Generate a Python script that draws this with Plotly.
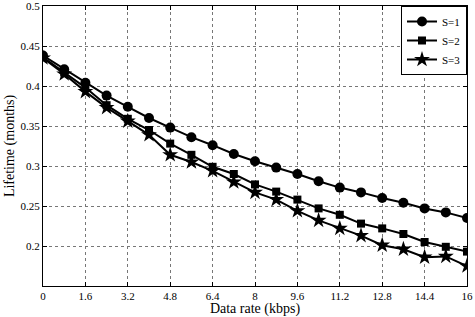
import plotly.graph_objects as go

data_rate = [0, 0.8, 1.6, 2.4, 3.2, 4.0, 4.8, 5.6, 6.4, 7.2, 8.0, 8.8, 9.6, 10.4, 11.2, 12.0, 12.8, 13.6, 14.4, 15.2, 16.0]
s1 = [0.438, 0.421, 0.404, 0.388, 0.374, 0.360, 0.348, 0.336, 0.326, 0.315, 0.306, 0.298, 0.290, 0.281, 0.273, 0.267, 0.260, 0.254, 0.247, 0.242, 0.235]
s2 = [0.436, 0.417, 0.398, 0.376, 0.359, 0.345, 0.328, 0.314, 0.299, 0.290, 0.277, 0.268, 0.258, 0.247, 0.239, 0.228, 0.222, 0.215, 0.205, 0.199, 0.193]
s3 = [0.435, 0.415, 0.393, 0.373, 0.356, 0.339, 0.314, 0.305, 0.294, 0.280, 0.267, 0.258, 0.244, 0.232, 0.222, 0.213, 0.201, 0.196, 0.186, 0.187, 0.175]
x_ticks = [0, 1.6, 3.2, 4.8, 6.4, 8, 9.6, 11.2, 12.8, 14.4, 16]
x_tick_labels = ["0", "1.6", "3.2", "4.8", "6.4", "8", "9.6", "11.2", "12.8", "14.4", "16"]
y_ticks = [0.2, 0.25, 0.3, 0.35, 0.4, 0.45, 0.5]
y_tick_labels = ["0.2", "0.25", "0.3", "0.35", "0.4", "0.45", "0.5"]

font = "Liberation Serif, Times New Roman, serif"

fig = go.Figure()
for name, ys, sym, size in [("S=1", s1, "circle", 10), ("S=2", s2, "square", 8), ("S=3", s3, "star", 12)]:
    fig.add_trace(go.Scatter(
        x=data_rate, y=ys, name=name, mode="lines+markers",
        line=dict(color="black", width=2),
        marker=dict(symbol=sym, size=size, color="black", line=dict(width=0)),
    ))

axis_common = dict(
    showline=True, linecolor="black", linewidth=1, mirror="ticks",
    ticks="inside", ticklen=4, tickcolor="black",
    showgrid=True, gridcolor="#777777", griddash="dot", gridwidth=1,
    zeroline=False, automargin=False, ticklabeloverflow="allow",
    tickfont=dict(family=font, size=11, color="black"),
)

fig.update_layout(
    width=475, height=317,
    margin=dict(l=43, r=8, t=6, b=31),
    paper_bgcolor="white", plot_bgcolor="white",
    font=dict(family=font, color="black"),
    xaxis=dict(range=[0, 16], tickvals=x_ticks, ticktext=x_tick_labels,
               title=dict(text="Data rate (kbps)", font=dict(family=font, size=14), standoff=0),
               **axis_common),
    yaxis=dict(range=[0.15, 0.5], tickvals=y_ticks, ticktext=y_tick_labels,
               title=dict(text="Lifetime (months)", font=dict(family=font, size=14), standoff=2),
               **axis_common),
    legend=dict(x=1, y=1, xanchor="right", yanchor="top",
                bgcolor="white", bordercolor="black", borderwidth=1,
                font=dict(family=font, size=11), tracegroupgap=0,
                itemwidth=30),
    showlegend=True,
)

fig.write_html("out.html", config={"displayModeBar": False, "staticPlot": True},
               post_script="document.body.style.margin='0';document.body.style.overflow='hidden';")
